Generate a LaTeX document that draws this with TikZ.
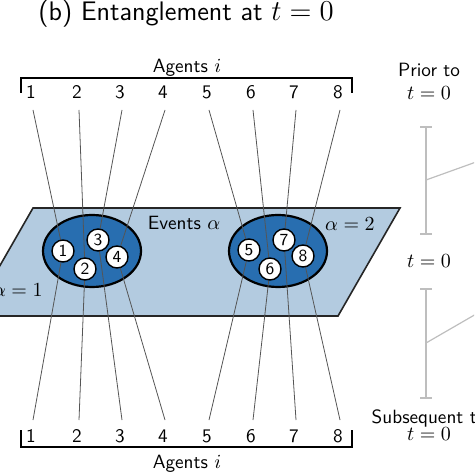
\documentclass[tikz,border=0pt]{standalone}
\usepackage{tikz}
\usetikzlibrary{shapes.geometric}
\definecolor{planeblue}{RGB}{179,203,224}
\definecolor{evblue}{RGB}{40,110,176}
\definecolor{linegray}{RGB}{85,85,85}
\definecolor{brgray}{RGB}{190,190,190}
\tikzset{
  lbl/.style={font=\sffamily\fontsize{9.6}{11}\selectfont, inner sep=0pt},
  ttl/.style={font=\sffamily\fontsize{13.4}{16}\selectfont, inner sep=0pt},
  agent/.style={circle, draw=black, line width=0.7pt, fill=white, minimum size=11pt, inner sep=0pt, font=\sffamily\fontsize{8.5}{9}\selectfont},
  tie/.style={draw=linegray, line width=0.4pt},
  brk/.style={draw=black, line width=1pt},
  gbrk/.style={draw=brgray, line width=1pt},
  evt/.style={ellipse, draw=black, line width=1.1pt, fill=evblue, minimum width=49pt, minimum height=36pt, inner sep=0pt},
}
\begin{document}
\begin{tikzpicture}[x=0.5pt,y=-0.5pt]
\useasboundingbox (0,0) rectangle (474,474);
\clip (0,0) rectangle (474,474);
% title
\node[ttl, anchor=base west] (title) at (38,21) {(b) Entanglement at $t=0$};
% plane
\path[fill=planeblue, draw=black!85, line width=0.8pt] (33,208) -- (400,208) -- (338,316) -- (-29,316) -- cycle;
% events
\node[evt] (e1) at (92,251) {};
\node[evt] (e2) at (278,251) {};
\node[lbl, anchor=base] (evl) at (184,230) {Events $\alpha$};
\node[lbl, anchor=base] (a2) at (350,231) {$\alpha=2$};
\node[lbl, anchor=base east] (a1) at (43,297) {$\alpha=1$};
% agent circles positions
\coordinate (p1) at (63,251);
\coordinate (p2) at (85,269);
\coordinate (p3) at (98,240);
\coordinate (p4) at (117,257);
\coordinate (p5) at (249,250);
\coordinate (p6) at (270,269);
\coordinate (p7) at (284,240);
\coordinate (p8) at (303,256);
% top and bottom labels
\foreach \i/\x in {1/31,2/77,3/120,4/163,5/207,6/251,7/294,8/338}{
  \node[lbl, anchor=base] (t\i) at (\x,99) {\i};
  \node[lbl, anchor=base] (b\i) at (\x,442) {\i};
  \coordinate (tt\i) at (\x+2,110);
  \coordinate (bb\i) at (\x+2,420);
}
% ties
\foreach \i in {1,...,8}{
  \draw[tie] (tt\i) -- (p\i) -- (bb\i);
}
% circles
\foreach \i in {1,...,8}{
  \node[agent] (c\i) at (p\i) {\i};
}
% brackets
\draw[brk] (21,93) -- (21,78) -- (352,78) -- (352,93);
\draw[brk] (21,430) -- (21,447) -- (352,447) -- (352,430);
\node[lbl, anchor=base] (agt) at (187,73) {Agents $i$};
\node[lbl, anchor=base] (agb) at (187,468) {Agents $i$};
% right side
\node[lbl, anchor=base] (pr) at (429,77) {Prior to};
\node[lbl, anchor=base] (pr0) at (429,100) {$t=0$};
\node[lbl, anchor=base] (mid) at (429,268) {$t=0$};
\node[lbl, anchor=base] (sb) at (429,423) {Subsequent to};
\node[lbl, anchor=base] (sb0) at (429,440) {$t=0$};
\draw[gbrk] (420,127) -- (432,127);
\draw[gbrk] (420,234) -- (432,234);
\draw[gbrk] (426,127) -- (426,234);
\coordinate (g1) at (426,180);
\coordinate (g1e) at (490,157);
\draw[draw=brgray, line width=0.6pt] (g1) -- (g1e);
\draw[gbrk] (420,289) -- (432,289);
\draw[gbrk] (420,398) -- (432,398);
\draw[gbrk] (426,289) -- (426,398);
\coordinate (g2) at (426,343);
\coordinate (g2e) at (490,306);
\draw[draw=brgray, line width=0.6pt] (g2) -- (g2e);
\end{tikzpicture}
\end{document}
